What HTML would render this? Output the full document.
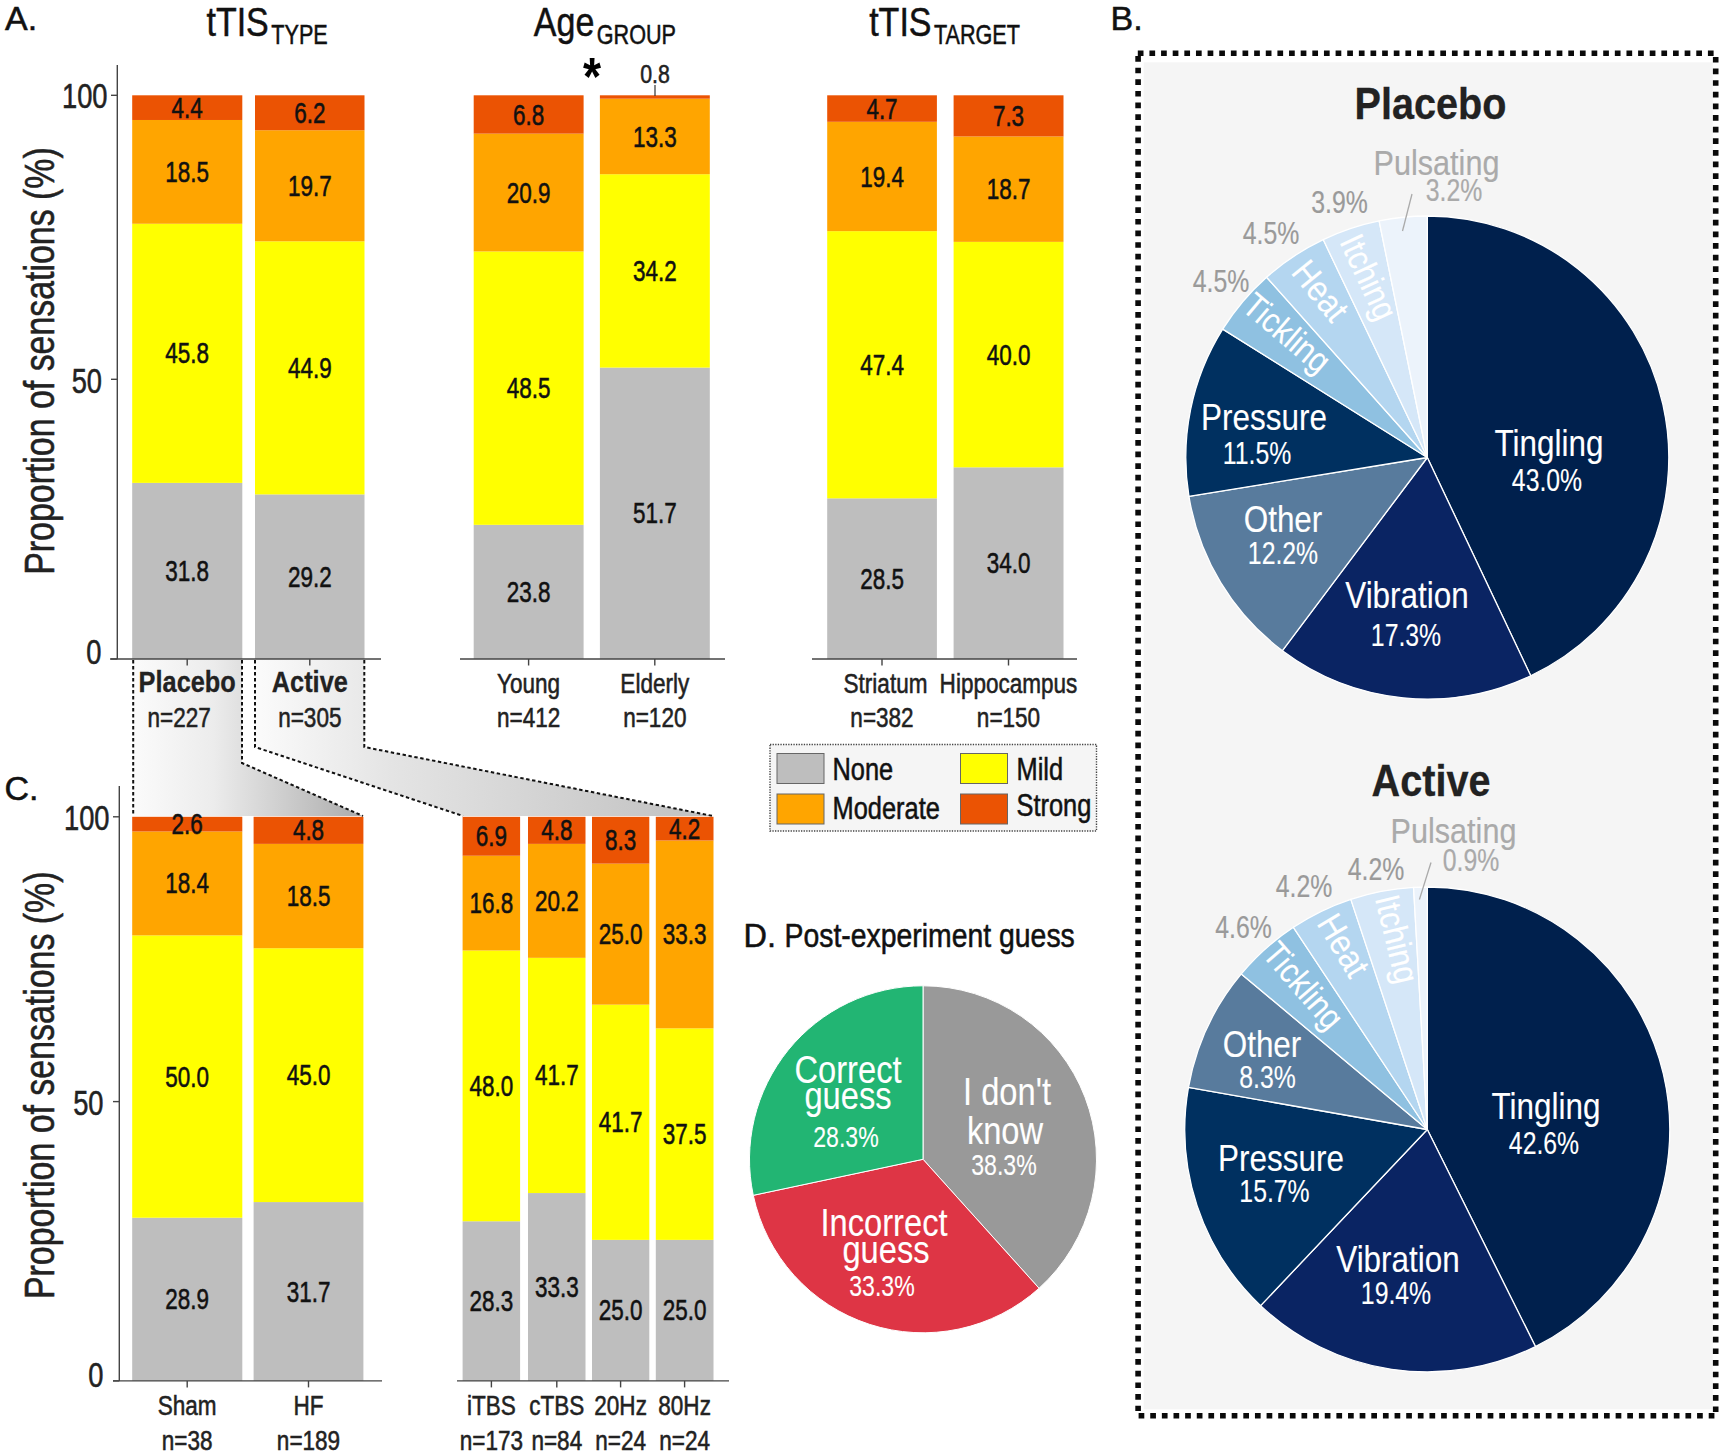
<!DOCTYPE html><html><head><meta charset="utf-8"><title>Figure</title><style>html,body{margin:0;padding:0;background:#fff}svg{display:block}</style></head><body>
<svg width="1725" height="1456" viewBox="0 0 1725 1456" font-family="Liberation Sans, sans-serif">
<defs>
<linearGradient id="g1" gradientUnits="userSpaceOnUse" x1="133" y1="0" x2="363" y2="0"><stop offset="0" stop-color="#fbfbfb"/><stop offset="0.35" stop-color="#ececec"/><stop offset="1" stop-color="#ababab"/></linearGradient>
<linearGradient id="g2" gradientUnits="userSpaceOnUse" x1="255" y1="0" x2="713" y2="0"><stop offset="0" stop-color="#fbfbfb"/><stop offset="0.3" stop-color="#e4e4e4"/><stop offset="1" stop-color="#c0c0c0"/></linearGradient>
</defs>
<rect width="1725" height="1456" fill="#fff"/>
<rect x="1143.7" y="62.3" width="569" height="1347" fill="#F5F5F5"/>
<path d="M1137.8,53.2 H1714" fill="none" stroke="#0a0a0a" stroke-width="5.6" stroke-dasharray="5.7 5.935"/>
<path d="M1715.7,56.9 V1412" fill="none" stroke="#0a0a0a" stroke-width="5.6" stroke-dasharray="5.7 5.935"/>
<path d="M1138.6,1415.8 H1714.6" fill="none" stroke="#0a0a0a" stroke-width="5.6" stroke-dasharray="5.7 5.935"/>
<path d="M1138.1,56 V1411" fill="none" stroke="#0a0a0a" stroke-width="5.6" stroke-dasharray="5.7 5.935"/>
<path d="M133.2,660 L133.2,816 L363,816 L242,763 L242,660 Z" fill="url(#g1)"/>
<path d="M255,660 L255,747 L463,816 L713,816 L364.3,747 L364.3,660 Z" fill="url(#g2)"/>
<path d="M133.2,660 L133.2,816" fill="none" stroke="#111" stroke-width="2" stroke-dasharray="3.4 2.6"/>
<path d="M242,660 L242,763 L363,816" fill="none" stroke="#111" stroke-width="2" stroke-dasharray="3.4 2.6"/>
<path d="M255,660 L255,747 L463,816" fill="none" stroke="#111" stroke-width="2" stroke-dasharray="3.4 2.6"/>
<path d="M364.3,660 L364.3,747 L713,816" fill="none" stroke="#111" stroke-width="2" stroke-dasharray="3.4 2.6"/>
<path d="M117.3,65 V659.0" stroke="#444" stroke-width="1.4" fill="none"/>
<path d="M111,659.0 H117.3" stroke="#444" stroke-width="1.4"/>
<text transform="translate(101.5,664.0) scale(0.78,1)" font-size="35" text-anchor="end" fill="#222" font-weight="normal" stroke="#222" stroke-width="0.55">0</text>
<path d="M111,379.3 H117.3" stroke="#444" stroke-width="1.4"/>
<text transform="translate(102.0,392.5) scale(0.78,1)" font-size="35" text-anchor="end" fill="#222" font-weight="normal" stroke="#222" stroke-width="0.55">50</text>
<path d="M111,95.3 H117.3" stroke="#444" stroke-width="1.4"/>
<text transform="translate(107.5,108.3) scale(0.78,1)" font-size="35" text-anchor="end" fill="#222" font-weight="normal" stroke="#222" stroke-width="0.55">100</text>
<rect x="132.2" y="482.88" width="110.1" height="176.12" fill="#BEBEBE"/>
<text transform="translate(187.2,580.9) scale(0.775,1)" font-size="29" text-anchor="middle" fill="#111" font-weight="normal" stroke="#111" stroke-width="0.55">31.8</text>
<rect x="132.2" y="223.75" width="110.1" height="259.13" fill="#FFFF00"/>
<text transform="translate(187.2,363.3) scale(0.775,1)" font-size="29" text-anchor="middle" fill="#111" font-weight="normal" stroke="#111" stroke-width="0.55">45.8</text>
<rect x="132.2" y="119.98" width="110.1" height="103.77" fill="#FFA500"/>
<text transform="translate(187.2,181.9) scale(0.775,1)" font-size="29" text-anchor="middle" fill="#111" font-weight="normal" stroke="#111" stroke-width="0.55">18.5</text>
<rect x="132.2" y="95.30" width="110.1" height="24.68" fill="#EB5303"/>
<text transform="translate(187.2,117.6) scale(0.775,1)" font-size="29" text-anchor="middle" fill="#111" font-weight="normal" stroke="#111" stroke-width="0.55">4.4</text>
<path d="M187.2,659.0 v6.5" stroke="#444" stroke-width="1.4"/>
<text transform="translate(187.2,692.0) scale(0.86,1)" font-size="29.5" text-anchor="middle" fill="#222" font-weight="bold" stroke="#222" stroke-width="0.3">Placebo</text>
<text transform="translate(179.2,727.3) scale(0.82,1)" font-size="27.5" text-anchor="middle" fill="#222" font-weight="normal" stroke="#222" stroke-width="0.55">n=227</text>
<rect x="255.0" y="494.40" width="109.5" height="164.60" fill="#BEBEBE"/>
<text transform="translate(309.8,586.7) scale(0.775,1)" font-size="29" text-anchor="middle" fill="#111" font-weight="normal" stroke="#111" stroke-width="0.55">29.2</text>
<rect x="255.0" y="241.30" width="109.5" height="253.10" fill="#FFFF00"/>
<text transform="translate(309.8,377.8) scale(0.775,1)" font-size="29" text-anchor="middle" fill="#111" font-weight="normal" stroke="#111" stroke-width="0.55">44.9</text>
<rect x="255.0" y="130.25" width="109.5" height="111.05" fill="#FFA500"/>
<text transform="translate(309.8,195.8) scale(0.775,1)" font-size="29" text-anchor="middle" fill="#111" font-weight="normal" stroke="#111" stroke-width="0.55">19.7</text>
<rect x="255.0" y="95.30" width="109.5" height="34.95" fill="#EB5303"/>
<text transform="translate(309.8,122.8) scale(0.775,1)" font-size="29" text-anchor="middle" fill="#111" font-weight="normal" stroke="#111" stroke-width="0.55">6.2</text>
<path d="M309.8,659.0 v6.5" stroke="#444" stroke-width="1.4"/>
<text transform="translate(309.8,692.0) scale(0.86,1)" font-size="29.5" text-anchor="middle" fill="#222" font-weight="bold" stroke="#222" stroke-width="0.3">Active</text>
<text transform="translate(309.8,727.3) scale(0.82,1)" font-size="27.5" text-anchor="middle" fill="#222" font-weight="normal" stroke="#222" stroke-width="0.55">n=305</text>
<path d="M110,659.0 H381" stroke="#444" stroke-width="1.4"/>
<rect x="473.7" y="524.84" width="109.9" height="134.16" fill="#BEBEBE"/>
<text transform="translate(528.6,601.9) scale(0.775,1)" font-size="29" text-anchor="middle" fill="#111" font-weight="normal" stroke="#111" stroke-width="0.55">23.8</text>
<rect x="473.7" y="251.44" width="109.9" height="273.39" fill="#FFFF00"/>
<text transform="translate(528.6,398.1) scale(0.775,1)" font-size="29" text-anchor="middle" fill="#111" font-weight="normal" stroke="#111" stroke-width="0.55">48.5</text>
<rect x="473.7" y="133.63" width="109.9" height="117.81" fill="#FFA500"/>
<text transform="translate(528.6,202.5) scale(0.775,1)" font-size="29" text-anchor="middle" fill="#111" font-weight="normal" stroke="#111" stroke-width="0.55">20.9</text>
<rect x="473.7" y="95.30" width="109.9" height="38.33" fill="#EB5303"/>
<text transform="translate(528.6,124.5) scale(0.775,1)" font-size="29" text-anchor="middle" fill="#111" font-weight="normal" stroke="#111" stroke-width="0.55">6.8</text>
<path d="M528.6,659.0 v6.5" stroke="#444" stroke-width="1.4"/>
<text transform="translate(528.6,693.3) scale(0.82,1)" font-size="27.5" text-anchor="middle" fill="#222" font-weight="normal" stroke="#222" stroke-width="0.55">Young</text>
<text transform="translate(528.6,727.3) scale(0.82,1)" font-size="27.5" text-anchor="middle" fill="#222" font-weight="normal" stroke="#222" stroke-width="0.55">n=412</text>
<rect x="599.9" y="367.57" width="109.9" height="291.43" fill="#BEBEBE"/>
<text transform="translate(654.8,523.3) scale(0.775,1)" font-size="29" text-anchor="middle" fill="#111" font-weight="normal" stroke="#111" stroke-width="0.55">51.7</text>
<rect x="599.9" y="174.22" width="109.9" height="193.35" fill="#FFFF00"/>
<text transform="translate(654.8,280.9) scale(0.775,1)" font-size="29" text-anchor="middle" fill="#111" font-weight="normal" stroke="#111" stroke-width="0.55">34.2</text>
<rect x="599.9" y="98.68" width="109.9" height="75.54" fill="#FFA500"/>
<text transform="translate(654.8,146.5) scale(0.775,1)" font-size="29" text-anchor="middle" fill="#111" font-weight="normal" stroke="#111" stroke-width="0.55">13.3</text>
<rect x="599.9" y="95.30" width="109.9" height="3.38" fill="#EB5303"/>
<path d="M654.8,659.0 v6.5" stroke="#444" stroke-width="1.4"/>
<text transform="translate(654.8,693.3) scale(0.82,1)" font-size="27.5" text-anchor="middle" fill="#222" font-weight="normal" stroke="#222" stroke-width="0.55">Elderly</text>
<text transform="translate(654.8,727.3) scale(0.82,1)" font-size="27.5" text-anchor="middle" fill="#222" font-weight="normal" stroke="#222" stroke-width="0.55">n=120</text>
<path d="M460,659.0 H725" stroke="#444" stroke-width="1.4"/>
<rect x="827.2" y="498.35" width="109.7" height="160.65" fill="#BEBEBE"/>
<text transform="translate(882.0,588.7) scale(0.775,1)" font-size="29" text-anchor="middle" fill="#111" font-weight="normal" stroke="#111" stroke-width="0.55">28.5</text>
<rect x="827.2" y="231.15" width="109.7" height="267.19" fill="#FFFF00"/>
<text transform="translate(882.0,374.7) scale(0.775,1)" font-size="29" text-anchor="middle" fill="#111" font-weight="normal" stroke="#111" stroke-width="0.55">47.4</text>
<rect x="827.2" y="121.79" width="109.7" height="109.36" fill="#FFA500"/>
<text transform="translate(882.0,186.5) scale(0.775,1)" font-size="29" text-anchor="middle" fill="#111" font-weight="normal" stroke="#111" stroke-width="0.55">19.4</text>
<rect x="827.2" y="95.30" width="109.7" height="26.49" fill="#EB5303"/>
<text transform="translate(882.0,118.5) scale(0.775,1)" font-size="29" text-anchor="middle" fill="#111" font-weight="normal" stroke="#111" stroke-width="0.55">4.7</text>
<path d="M882.0,659.0 v6.5" stroke="#444" stroke-width="1.4"/>
<text transform="translate(885.5,693.3) scale(0.82,1)" font-size="27.5" text-anchor="middle" fill="#222" font-weight="normal" stroke="#222" stroke-width="0.55">Striatum</text>
<text transform="translate(882.0,727.3) scale(0.82,1)" font-size="27.5" text-anchor="middle" fill="#222" font-weight="normal" stroke="#222" stroke-width="0.55">n=382</text>
<rect x="953.6" y="467.34" width="109.9" height="191.66" fill="#BEBEBE"/>
<text transform="translate(1008.5,573.2) scale(0.775,1)" font-size="29" text-anchor="middle" fill="#111" font-weight="normal" stroke="#111" stroke-width="0.55">34.0</text>
<rect x="953.6" y="241.86" width="109.9" height="225.48" fill="#FFFF00"/>
<text transform="translate(1008.5,364.6) scale(0.775,1)" font-size="29" text-anchor="middle" fill="#111" font-weight="normal" stroke="#111" stroke-width="0.55">40.0</text>
<rect x="953.6" y="136.45" width="109.9" height="105.41" fill="#FFA500"/>
<text transform="translate(1008.5,199.2) scale(0.775,1)" font-size="29" text-anchor="middle" fill="#111" font-weight="normal" stroke="#111" stroke-width="0.55">18.7</text>
<rect x="953.6" y="95.30" width="109.9" height="41.15" fill="#EB5303"/>
<text transform="translate(1008.5,125.9) scale(0.775,1)" font-size="29" text-anchor="middle" fill="#111" font-weight="normal" stroke="#111" stroke-width="0.55">7.3</text>
<path d="M1008.5,659.0 v6.5" stroke="#444" stroke-width="1.4"/>
<text transform="translate(1008.5,693.3) scale(0.82,1)" font-size="27.5" text-anchor="middle" fill="#222" font-weight="normal" stroke="#222" stroke-width="0.55">Hippocampus</text>
<text transform="translate(1008.5,727.3) scale(0.82,1)" font-size="27.5" text-anchor="middle" fill="#222" font-weight="normal" stroke="#222" stroke-width="0.55">n=150</text>
<path d="M812,659.0 H1077" stroke="#444" stroke-width="1.4"/>
<text transform="translate(655.0,83.0) scale(0.82,1)" font-size="26" text-anchor="middle" fill="#222" font-weight="normal" stroke="#222" stroke-width="0.55">0.8</text>
<path d="M655,85 V96" stroke="#333" stroke-width="1.2"/>
<text transform="translate(592.0,94.6) scale(0.86,1)" font-size="54" text-anchor="middle" fill="#000" font-weight="bold">*</text>
<text transform="translate(54.0,361.0) rotate(-90.0) scale(0.807,1)" font-size="42" text-anchor="middle" fill="#222" font-weight="normal" stroke="#222" stroke-width="0.55">Proportion of sensations (%)</text>
<text transform="translate(268.8,35.7) scale(0.85,1)" font-size="40" text-anchor="end" fill="#111" font-weight="normal" stroke="#111" stroke-width="0.5">tTIS</text>
<text transform="translate(271.3,44.3) scale(0.8,1)" font-size="27" text-anchor="start" fill="#111" font-weight="normal" stroke="#111" stroke-width="0.5">TYPE</text>
<text transform="translate(594.3,35.7) scale(0.85,1)" font-size="40" text-anchor="end" fill="#111" font-weight="normal" stroke="#111" stroke-width="0.5">Age</text>
<text transform="translate(596.8,44.3) scale(0.8,1)" font-size="27" text-anchor="start" fill="#111" font-weight="normal" stroke="#111" stroke-width="0.5">GROUP</text>
<text transform="translate(931.5,35.7) scale(0.85,1)" font-size="40" text-anchor="end" fill="#111" font-weight="normal" stroke="#111" stroke-width="0.5">tTIS</text>
<text transform="translate(934.0,44.3) scale(0.8,1)" font-size="27" text-anchor="start" fill="#111" font-weight="normal" stroke="#111" stroke-width="0.5">TARGET</text>
<text transform="translate(5.0,29.7) scale(1,1)" font-size="34" text-anchor="start" fill="#111" font-weight="normal" stroke="#111" stroke-width="0.55">A.</text>
<text transform="translate(1110.5,29.7) scale(1,1)" font-size="34" text-anchor="start" fill="#111" font-weight="normal" stroke="#111" stroke-width="0.55">B.</text>
<text transform="translate(4.5,800.0) scale(1,1)" font-size="34" text-anchor="start" fill="#111" font-weight="normal" stroke="#111" stroke-width="0.55">C.</text>
<rect x="770" y="744.5" width="326.5" height="86.5" fill="#F5F5F5" stroke="#444" stroke-width="1.4" stroke-dasharray="1.3 1.3"/>
<rect x="777" y="753.5" width="47" height="30" fill="#BEBEBE" stroke="#666" stroke-width="1"/>
<rect x="777" y="794" width="47" height="30" fill="#FFA500" stroke="#666" stroke-width="1"/>
<rect x="960.5" y="753.5" width="47" height="30" fill="#FFFF00" stroke="#666" stroke-width="1"/>
<rect x="960.5" y="794" width="47" height="30" fill="#EB5303" stroke="#666" stroke-width="1"/>
<text transform="translate(832.5,780.0) scale(0.82,1)" font-size="31" text-anchor="start" fill="#111" font-weight="normal" stroke="#111" stroke-width="0.55">None</text>
<text transform="translate(832.5,819.3) scale(0.82,1)" font-size="31" text-anchor="start" fill="#111" font-weight="normal" stroke="#111" stroke-width="0.55">Moderate</text>
<text transform="translate(1016.5,780.0) scale(0.82,1)" font-size="31" text-anchor="start" fill="#111" font-weight="normal" stroke="#111" stroke-width="0.55">Mild</text>
<text transform="translate(1016.5,816.0) scale(0.82,1)" font-size="31" text-anchor="start" fill="#111" font-weight="normal" stroke="#111" stroke-width="0.55">Strong</text>
<path d="M119.3,786 V1380.9" stroke="#444" stroke-width="1.4" fill="none"/>
<path d="M113,1380.9 H119.3" stroke="#444" stroke-width="1.4"/>
<text transform="translate(103.5,1386.9) scale(0.78,1)" font-size="35" text-anchor="end" fill="#222" font-weight="normal" stroke="#222" stroke-width="0.55">0</text>
<path d="M113,1101.6 H119.3" stroke="#444" stroke-width="1.4"/>
<text transform="translate(103.5,1114.8) scale(0.78,1)" font-size="35" text-anchor="end" fill="#222" font-weight="normal" stroke="#222" stroke-width="0.55">50</text>
<path d="M113,816.8 H119.3" stroke="#444" stroke-width="1.4"/>
<text transform="translate(109.5,830.3) scale(0.78,1)" font-size="35" text-anchor="end" fill="#222" font-weight="normal" stroke="#222" stroke-width="0.55">100</text>
<rect x="132.2" y="1217.71" width="110.1" height="163.19" fill="#BEBEBE"/>
<text transform="translate(187.2,1309.3) scale(0.775,1)" font-size="29" text-anchor="middle" fill="#111" font-weight="normal" stroke="#111" stroke-width="0.55">28.9</text>
<rect x="132.2" y="935.38" width="110.1" height="282.33" fill="#FFFF00"/>
<text transform="translate(187.2,1086.5) scale(0.775,1)" font-size="29" text-anchor="middle" fill="#111" font-weight="normal" stroke="#111" stroke-width="0.55">50.0</text>
<rect x="132.2" y="831.48" width="110.1" height="103.90" fill="#FFA500"/>
<text transform="translate(187.2,893.4) scale(0.775,1)" font-size="29" text-anchor="middle" fill="#111" font-weight="normal" stroke="#111" stroke-width="0.55">18.4</text>
<rect x="132.2" y="816.80" width="110.1" height="14.68" fill="#EB5303"/>
<text transform="translate(187.2,834.1) scale(0.775,1)" font-size="29" text-anchor="middle" fill="#111" font-weight="normal" stroke="#111" stroke-width="0.55">2.6</text>
<path d="M187.2,1380.9 v6.5" stroke="#444" stroke-width="1.4"/>
<text transform="translate(187.2,1415.3) scale(0.82,1)" font-size="27.5" text-anchor="middle" fill="#222" font-weight="normal" stroke="#222" stroke-width="0.55">Sham</text>
<text transform="translate(187.2,1449.5) scale(0.82,1)" font-size="27.5" text-anchor="middle" fill="#222" font-weight="normal" stroke="#222" stroke-width="0.55">n=38</text>
<rect x="253.6" y="1202.08" width="109.8" height="178.82" fill="#BEBEBE"/>
<text transform="translate(308.5,1301.5) scale(0.775,1)" font-size="29" text-anchor="middle" fill="#111" font-weight="normal" stroke="#111" stroke-width="0.55">31.7</text>
<rect x="253.6" y="948.24" width="109.8" height="253.85" fill="#FFFF00"/>
<text transform="translate(308.5,1085.2) scale(0.775,1)" font-size="29" text-anchor="middle" fill="#111" font-weight="normal" stroke="#111" stroke-width="0.55">45.0</text>
<rect x="253.6" y="843.88" width="109.8" height="104.36" fill="#FFA500"/>
<text transform="translate(308.5,906.1) scale(0.775,1)" font-size="29" text-anchor="middle" fill="#111" font-weight="normal" stroke="#111" stroke-width="0.55">18.5</text>
<rect x="253.6" y="816.80" width="109.8" height="27.08" fill="#EB5303"/>
<text transform="translate(308.5,840.3) scale(0.775,1)" font-size="29" text-anchor="middle" fill="#111" font-weight="normal" stroke="#111" stroke-width="0.55">4.8</text>
<path d="M308.5,1380.9 v6.5" stroke="#444" stroke-width="1.4"/>
<text transform="translate(308.5,1415.3) scale(0.82,1)" font-size="27.5" text-anchor="middle" fill="#222" font-weight="normal" stroke="#222" stroke-width="0.55">HF</text>
<text transform="translate(308.5,1449.5) scale(0.82,1)" font-size="27.5" text-anchor="middle" fill="#222" font-weight="normal" stroke="#222" stroke-width="0.55">n=189</text>
<path d="M113,1380.9 H382" stroke="#444" stroke-width="1.4"/>
<rect x="462.6" y="1221.26" width="57.5" height="159.64" fill="#BEBEBE"/>
<text transform="translate(491.4,1311.1) scale(0.775,1)" font-size="29" text-anchor="middle" fill="#111" font-weight="normal" stroke="#111" stroke-width="0.55">28.3</text>
<rect x="462.6" y="950.49" width="57.5" height="270.77" fill="#FFFF00"/>
<text transform="translate(491.4,1095.9) scale(0.775,1)" font-size="29" text-anchor="middle" fill="#111" font-weight="normal" stroke="#111" stroke-width="0.55">48.0</text>
<rect x="462.6" y="855.72" width="57.5" height="94.77" fill="#FFA500"/>
<text transform="translate(491.4,913.1) scale(0.775,1)" font-size="29" text-anchor="middle" fill="#111" font-weight="normal" stroke="#111" stroke-width="0.55">16.8</text>
<rect x="462.6" y="816.80" width="57.5" height="38.92" fill="#EB5303"/>
<text transform="translate(491.4,846.3) scale(0.775,1)" font-size="29" text-anchor="middle" fill="#111" font-weight="normal" stroke="#111" stroke-width="0.55">6.9</text>
<path d="M491.4,1380.9 v6.5" stroke="#444" stroke-width="1.4"/>
<text transform="translate(491.4,1415.3) scale(0.82,1)" font-size="27.5" text-anchor="middle" fill="#222" font-weight="normal" stroke="#222" stroke-width="0.55">iTBS</text>
<text transform="translate(491.4,1449.5) scale(0.82,1)" font-size="27.5" text-anchor="middle" fill="#222" font-weight="normal" stroke="#222" stroke-width="0.55">n=173</text>
<rect x="528.0" y="1193.05" width="57.5" height="187.85" fill="#BEBEBE"/>
<text transform="translate(556.8,1297.0) scale(0.775,1)" font-size="29" text-anchor="middle" fill="#111" font-weight="normal" stroke="#111" stroke-width="0.55">33.3</text>
<rect x="528.0" y="957.82" width="57.5" height="235.23" fill="#FFFF00"/>
<text transform="translate(556.8,1085.4) scale(0.775,1)" font-size="29" text-anchor="middle" fill="#111" font-weight="normal" stroke="#111" stroke-width="0.55">41.7</text>
<rect x="528.0" y="843.88" width="57.5" height="113.95" fill="#FFA500"/>
<text transform="translate(556.8,910.9) scale(0.775,1)" font-size="29" text-anchor="middle" fill="#111" font-weight="normal" stroke="#111" stroke-width="0.55">20.2</text>
<rect x="528.0" y="816.80" width="57.5" height="27.08" fill="#EB5303"/>
<text transform="translate(556.8,840.3) scale(0.775,1)" font-size="29" text-anchor="middle" fill="#111" font-weight="normal" stroke="#111" stroke-width="0.55">4.8</text>
<path d="M556.8,1380.9 v6.5" stroke="#444" stroke-width="1.4"/>
<text transform="translate(556.8,1415.3) scale(0.82,1)" font-size="27.5" text-anchor="middle" fill="#222" font-weight="normal" stroke="#222" stroke-width="0.55">cTBS</text>
<text transform="translate(556.8,1449.5) scale(0.82,1)" font-size="27.5" text-anchor="middle" fill="#222" font-weight="normal" stroke="#222" stroke-width="0.55">n=84</text>
<rect x="592.0" y="1239.88" width="57.3" height="141.03" fill="#BEBEBE"/>
<text transform="translate(620.6,1320.4) scale(0.775,1)" font-size="29" text-anchor="middle" fill="#111" font-weight="normal" stroke="#111" stroke-width="0.55">25.0</text>
<rect x="592.0" y="1004.65" width="57.3" height="235.23" fill="#FFFF00"/>
<text transform="translate(620.6,1132.3) scale(0.775,1)" font-size="29" text-anchor="middle" fill="#111" font-weight="normal" stroke="#111" stroke-width="0.55">41.7</text>
<rect x="592.0" y="863.62" width="57.3" height="141.02" fill="#FFA500"/>
<text transform="translate(620.6,944.1) scale(0.775,1)" font-size="29" text-anchor="middle" fill="#111" font-weight="normal" stroke="#111" stroke-width="0.55">25.0</text>
<rect x="592.0" y="816.80" width="57.3" height="46.82" fill="#EB5303"/>
<text transform="translate(620.6,850.2) scale(0.775,1)" font-size="29" text-anchor="middle" fill="#111" font-weight="normal" stroke="#111" stroke-width="0.55">8.3</text>
<path d="M620.6,1380.9 v6.5" stroke="#444" stroke-width="1.4"/>
<text transform="translate(620.6,1415.3) scale(0.82,1)" font-size="27.5" text-anchor="middle" fill="#222" font-weight="normal" stroke="#222" stroke-width="0.55">20Hz</text>
<text transform="translate(620.6,1449.5) scale(0.82,1)" font-size="27.5" text-anchor="middle" fill="#222" font-weight="normal" stroke="#222" stroke-width="0.55">n=24</text>
<rect x="655.8" y="1239.88" width="57.7" height="141.03" fill="#BEBEBE"/>
<text transform="translate(684.6,1320.4) scale(0.775,1)" font-size="29" text-anchor="middle" fill="#111" font-weight="normal" stroke="#111" stroke-width="0.55">25.0</text>
<rect x="655.8" y="1028.34" width="57.7" height="211.54" fill="#FFFF00"/>
<text transform="translate(684.6,1144.1) scale(0.775,1)" font-size="29" text-anchor="middle" fill="#111" font-weight="normal" stroke="#111" stroke-width="0.55">37.5</text>
<rect x="655.8" y="840.49" width="57.7" height="187.85" fill="#FFA500"/>
<text transform="translate(684.6,944.4) scale(0.775,1)" font-size="29" text-anchor="middle" fill="#111" font-weight="normal" stroke="#111" stroke-width="0.55">33.3</text>
<rect x="655.8" y="816.80" width="57.7" height="23.69" fill="#EB5303"/>
<text transform="translate(684.6,838.6) scale(0.775,1)" font-size="29" text-anchor="middle" fill="#111" font-weight="normal" stroke="#111" stroke-width="0.55">4.2</text>
<path d="M684.6,1380.9 v6.5" stroke="#444" stroke-width="1.4"/>
<text transform="translate(684.6,1415.3) scale(0.82,1)" font-size="27.5" text-anchor="middle" fill="#222" font-weight="normal" stroke="#222" stroke-width="0.55">80Hz</text>
<text transform="translate(684.6,1449.5) scale(0.82,1)" font-size="27.5" text-anchor="middle" fill="#222" font-weight="normal" stroke="#222" stroke-width="0.55">n=24</text>
<path d="M457,1380.9 H729" stroke="#444" stroke-width="1.4"/>
<text transform="translate(54.0,1085.3) rotate(-90.0) scale(0.807,1)" font-size="42" text-anchor="middle" fill="#222" font-weight="normal" stroke="#222" stroke-width="0.55">Proportion of sensations (%)</text>
<text transform="translate(743.5,947.0) scale(0.97,1)" font-size="33.5" text-anchor="start" fill="#111" font-weight="normal" stroke="#111" stroke-width="0.55">D.</text>
<text transform="translate(784.5,947.0) scale(0.835,1)" font-size="34" text-anchor="start" fill="#111" font-weight="normal" stroke="#111" stroke-width="0.55">Post-experiment guess</text>
<path d="M923,1159.3 L923.00,985.80 A173.5,173.5 0 0 1 1039.05,1288.27 Z" fill="#999999" stroke="#fff" stroke-width="1.0" stroke-linejoin="round"/>
<path d="M923,1159.3 L1039.05,1288.27 A173.5,173.5 0 0 1 753.28,1195.32 Z" fill="#DE3545" stroke="#fff" stroke-width="1.0" stroke-linejoin="round"/>
<path d="M923,1159.3 L753.28,1195.32 A173.5,173.5 0 0 1 923.00,985.80 Z" fill="#22B573" stroke="#fff" stroke-width="1.0" stroke-linejoin="round"/>
<text transform="translate(1007.0,1104.5) scale(0.86,1)" font-size="38" text-anchor="middle" fill="#fff" font-weight="normal" stroke="#fff" stroke-width="0.12">I don't</text>
<text transform="translate(1005.0,1143.5) scale(0.86,1)" font-size="38" text-anchor="middle" fill="#fff" font-weight="normal" stroke="#fff" stroke-width="0.12">know</text>
<text transform="translate(1004.0,1175.0) scale(0.77,1)" font-size="30" text-anchor="middle" fill="#fff" font-weight="normal" stroke="#fff" stroke-width="0.12">38.3%</text>
<text transform="translate(848.0,1082.5) scale(0.86,1)" font-size="38" text-anchor="middle" fill="#fff" font-weight="normal" stroke="#fff" stroke-width="0.12">Correct</text>
<text transform="translate(848.0,1109.0) scale(0.86,1)" font-size="38" text-anchor="middle" fill="#fff" font-weight="normal" stroke="#fff" stroke-width="0.12">guess</text>
<text transform="translate(846.0,1147.0) scale(0.77,1)" font-size="30" text-anchor="middle" fill="#fff" font-weight="normal" stroke="#fff" stroke-width="0.12">28.3%</text>
<text transform="translate(884.0,1236.0) scale(0.86,1)" font-size="38" text-anchor="middle" fill="#fff" font-weight="normal" stroke="#fff" stroke-width="0.12">Incorrect</text>
<text transform="translate(886.0,1262.5) scale(0.86,1)" font-size="38" text-anchor="middle" fill="#fff" font-weight="normal" stroke="#fff" stroke-width="0.12">guess</text>
<text transform="translate(882.0,1296.0) scale(0.77,1)" font-size="30" text-anchor="middle" fill="#fff" font-weight="normal" stroke="#fff" stroke-width="0.12">33.3%</text>
<path d="M1427.3,457.5 L1427.30,216.00 A241.5,241.5 0 0 1 1530.72,675.74 Z" fill="#00204D" stroke="#fff" stroke-width="1.3" stroke-linejoin="round"/>
<path d="M1427.3,457.5 L1530.72,675.74 A241.5,241.5 0 0 1 1282.42,650.72 Z" fill="#0A2463" stroke="#fff" stroke-width="1.3" stroke-linejoin="round"/>
<path d="M1427.3,457.5 L1282.42,650.72 A241.5,241.5 0 0 1 1188.95,496.36 Z" fill="#587B9D" stroke="#fff" stroke-width="1.3" stroke-linejoin="round"/>
<path d="M1427.3,457.5 L1188.95,496.36 A241.5,241.5 0 0 1 1222.72,329.17 Z" fill="#003060" stroke="#fff" stroke-width="1.3" stroke-linejoin="round"/>
<path d="M1427.3,457.5 L1222.72,329.17 A241.5,241.5 0 0 1 1266.59,277.24 Z" fill="#8FC1E1" stroke="#fff" stroke-width="1.3" stroke-linejoin="round"/>
<path d="M1427.3,457.5 L1266.59,277.24 A241.5,241.5 0 0 1 1323.20,239.59 Z" fill="#B4D6F0" stroke="#fff" stroke-width="1.3" stroke-linejoin="round"/>
<path d="M1427.3,457.5 L1323.20,239.59 A241.5,241.5 0 0 1 1379.12,220.86 Z" fill="#D5E7F8" stroke="#fff" stroke-width="1.3" stroke-linejoin="round"/>
<path d="M1427.3,457.5 L1379.12,220.86 A241.5,241.5 0 0 1 1427.30,216.00 Z" fill="#ECF3FB" stroke="#fff" stroke-width="1.3" stroke-linejoin="round"/>
<text transform="translate(1430.5,119.0) scale(0.88,1)" font-size="45" text-anchor="middle" fill="#222" font-weight="bold" stroke="#222" stroke-width="0.3">Placebo</text>
<text transform="translate(1436.5,175.0) scale(0.85,1)" font-size="36" text-anchor="middle" fill="#aaaaaa" font-weight="normal" stroke="#aaaaaa" stroke-width="0.2">Pulsating</text>
<text transform="translate(1454.0,201.3) scale(0.8,1)" font-size="31" text-anchor="middle" fill="#aaaaaa" font-weight="normal" stroke="#aaaaaa" stroke-width="0.2">3.2%</text>
<path d="M1412,194 L1402.5,231" stroke="#aaa" stroke-width="1.3"/>
<text transform="translate(1339.5,212.5) scale(0.8,1)" font-size="31" text-anchor="middle" fill="#9a9a9a" font-weight="normal" stroke="#9a9a9a" stroke-width="0.2">3.9%</text>
<text transform="translate(1271.0,243.5) scale(0.8,1)" font-size="31" text-anchor="middle" fill="#9a9a9a" font-weight="normal" stroke="#9a9a9a" stroke-width="0.2">4.5%</text>
<text transform="translate(1221.0,291.5) scale(0.8,1)" font-size="31" text-anchor="middle" fill="#9a9a9a" font-weight="normal" stroke="#9a9a9a" stroke-width="0.2">4.5%</text>
<text transform="translate(1549.0,456.0) scale(0.85,1)" font-size="37" text-anchor="middle" fill="#fff" font-weight="normal" stroke="#fff" stroke-width="0.12">Tingling</text>
<text transform="translate(1547.0,490.5) scale(0.8,1)" font-size="31" text-anchor="middle" fill="#fff" font-weight="normal" stroke="#fff" stroke-width="0.12">43.0%</text>
<text transform="translate(1407.0,608.0) scale(0.85,1)" font-size="37" text-anchor="middle" fill="#fff" font-weight="normal" stroke="#fff" stroke-width="0.12">Vibration</text>
<text transform="translate(1406.0,645.5) scale(0.8,1)" font-size="31" text-anchor="middle" fill="#fff" font-weight="normal" stroke="#fff" stroke-width="0.12">17.3%</text>
<text transform="translate(1283.0,532.0) scale(0.85,1)" font-size="37" text-anchor="middle" fill="#fff" font-weight="normal" stroke="#fff" stroke-width="0.12">Other</text>
<text transform="translate(1283.0,563.5) scale(0.8,1)" font-size="31" text-anchor="middle" fill="#fff" font-weight="normal" stroke="#fff" stroke-width="0.12">12.2%</text>
<text transform="translate(1264.0,430.0) scale(0.85,1)" font-size="37" text-anchor="middle" fill="#fff" font-weight="normal" stroke="#fff" stroke-width="0.12">Pressure</text>
<text transform="translate(1257.0,463.5) scale(0.8,1)" font-size="31" text-anchor="middle" fill="#fff" font-weight="normal" stroke="#fff" stroke-width="0.12">11.5%</text>
<text transform="translate(1286.7,333.3) rotate(40.2) translate(0,11.6) scale(0.87,1)" font-size="35" text-anchor="middle" fill="#fff" font-weight="normal" stroke="#fff" stroke-width="0.12">Tickling</text>
<text transform="translate(1320.2,291.0) rotate(50.9) translate(0,11.9) scale(0.87,1)" font-size="36" text-anchor="middle" fill="#fff" font-weight="normal" stroke="#fff" stroke-width="0.12">Heat</text>
<text transform="translate(1368.4,277.3) rotate(65.0) translate(0,11.6) scale(0.87,1)" font-size="35" text-anchor="middle" fill="#fff" font-weight="normal" stroke="#fff" stroke-width="0.12">Itching</text>
<path d="M1427.3,1129.5 L1427.30,887.00 A242.5,242.5 0 0 1 1535.45,1346.55 Z" fill="#00204D" stroke="#fff" stroke-width="1.3" stroke-linejoin="round"/>
<path d="M1427.3,1129.5 L1535.45,1346.55 A242.5,242.5 0 0 1 1260.61,1305.63 Z" fill="#0A2463" stroke="#fff" stroke-width="1.3" stroke-linejoin="round"/>
<path d="M1427.3,1129.5 L1260.61,1305.63 A242.5,242.5 0 0 1 1188.48,1087.39 Z" fill="#003060" stroke="#fff" stroke-width="1.3" stroke-linejoin="round"/>
<path d="M1427.3,1129.5 L1188.48,1087.39 A242.5,242.5 0 0 1 1241.29,973.92 Z" fill="#587B9D" stroke="#fff" stroke-width="1.3" stroke-linejoin="round"/>
<path d="M1427.3,1129.5 L1241.29,973.92 A242.5,242.5 0 0 1 1293.41,927.31 Z" fill="#8FC1E1" stroke="#fff" stroke-width="1.3" stroke-linejoin="round"/>
<path d="M1427.3,1129.5 L1293.41,927.31 A242.5,242.5 0 0 1 1350.84,899.37 Z" fill="#B4D6F0" stroke="#fff" stroke-width="1.3" stroke-linejoin="round"/>
<path d="M1427.3,1129.5 L1350.84,899.37 A242.5,242.5 0 0 1 1413.58,887.39 Z" fill="#D5E7F8" stroke="#fff" stroke-width="1.3" stroke-linejoin="round"/>
<path d="M1427.3,1129.5 L1413.58,887.39 A242.5,242.5 0 0 1 1427.30,887.00 Z" fill="#ECF3FB" stroke="#fff" stroke-width="1.3" stroke-linejoin="round"/>
<text transform="translate(1431.0,796.0) scale(0.88,1)" font-size="45" text-anchor="middle" fill="#222" font-weight="bold" stroke="#222" stroke-width="0.3">Active</text>
<text transform="translate(1453.5,843.0) scale(0.85,1)" font-size="36" text-anchor="middle" fill="#aaaaaa" font-weight="normal" stroke="#aaaaaa" stroke-width="0.2">Pulsating</text>
<text transform="translate(1471.0,870.5) scale(0.8,1)" font-size="31" text-anchor="middle" fill="#aaaaaa" font-weight="normal" stroke="#aaaaaa" stroke-width="0.2">0.9%</text>
<path d="M1431,862.5 L1419.4,899.5" stroke="#aaa" stroke-width="1.3"/>
<text transform="translate(1376.0,880.0) scale(0.8,1)" font-size="31" text-anchor="middle" fill="#9a9a9a" font-weight="normal" stroke="#9a9a9a" stroke-width="0.2">4.2%</text>
<text transform="translate(1304.0,896.5) scale(0.8,1)" font-size="31" text-anchor="middle" fill="#9a9a9a" font-weight="normal" stroke="#9a9a9a" stroke-width="0.2">4.2%</text>
<text transform="translate(1243.5,937.5) scale(0.8,1)" font-size="31" text-anchor="middle" fill="#9a9a9a" font-weight="normal" stroke="#9a9a9a" stroke-width="0.2">4.6%</text>
<text transform="translate(1546.0,1119.0) scale(0.85,1)" font-size="37" text-anchor="middle" fill="#fff" font-weight="normal" stroke="#fff" stroke-width="0.12">Tingling</text>
<text transform="translate(1544.0,1153.5) scale(0.8,1)" font-size="31" text-anchor="middle" fill="#fff" font-weight="normal" stroke="#fff" stroke-width="0.12">42.6%</text>
<text transform="translate(1398.0,1271.5) scale(0.85,1)" font-size="37" text-anchor="middle" fill="#fff" font-weight="normal" stroke="#fff" stroke-width="0.12">Vibration</text>
<text transform="translate(1396.0,1303.5) scale(0.8,1)" font-size="31" text-anchor="middle" fill="#fff" font-weight="normal" stroke="#fff" stroke-width="0.12">19.4%</text>
<text transform="translate(1281.0,1171.0) scale(0.85,1)" font-size="37" text-anchor="middle" fill="#fff" font-weight="normal" stroke="#fff" stroke-width="0.12">Pressure</text>
<text transform="translate(1274.5,1201.5) scale(0.8,1)" font-size="31" text-anchor="middle" fill="#fff" font-weight="normal" stroke="#fff" stroke-width="0.12">15.7%</text>
<text transform="translate(1262.0,1057.0) scale(0.85,1)" font-size="37" text-anchor="middle" fill="#fff" font-weight="normal" stroke="#fff" stroke-width="0.12">Other</text>
<text transform="translate(1267.5,1087.5) scale(0.8,1)" font-size="31" text-anchor="middle" fill="#fff" font-weight="normal" stroke="#fff" stroke-width="0.12">8.3%</text>
<text transform="translate(1303.2,985.9) rotate(49.2) translate(0,11.6) scale(0.87,1)" font-size="35" text-anchor="middle" fill="#fff" font-weight="normal" stroke="#fff" stroke-width="0.12">Tickling</text>
<text transform="translate(1343.1,945.4) rotate(59.1) translate(0,11.9) scale(0.87,1)" font-size="36" text-anchor="middle" fill="#fff" font-weight="normal" stroke="#fff" stroke-width="0.12">Heat</text>
<text transform="translate(1396.7,939.1) rotate(76.2) translate(0,11.6) scale(0.87,1)" font-size="35" text-anchor="middle" fill="#fff" font-weight="normal" stroke="#fff" stroke-width="0.12">Itching</text>
</svg>
</body></html>
